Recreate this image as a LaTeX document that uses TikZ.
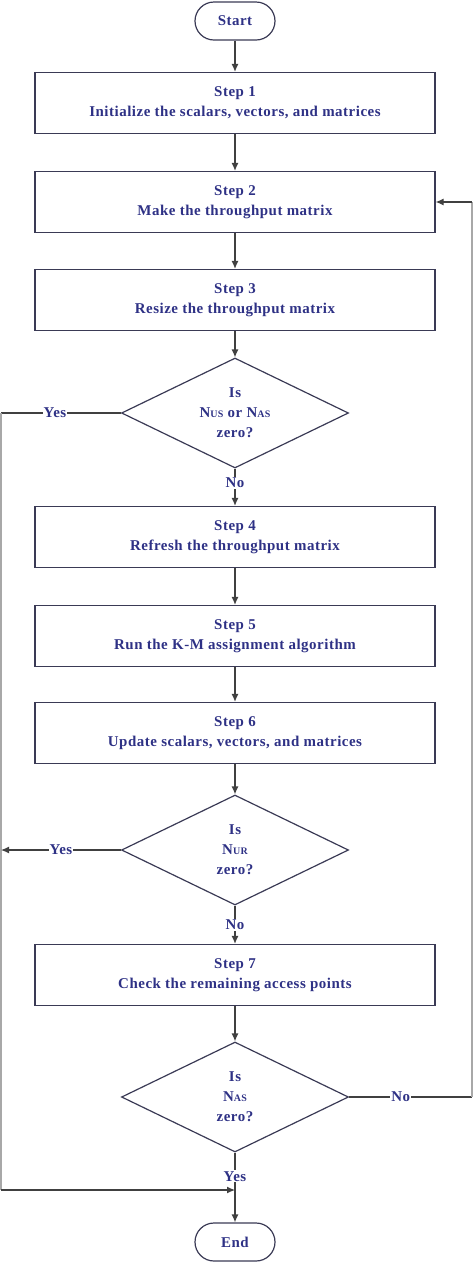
\documentclass[tikz,border=0pt]{standalone}
\usepackage{fontspec}
\setmainfont[LetterSpace=3.5]{Liberation Serif}
\usetikzlibrary{shapes.geometric,arrows.meta}

\definecolor{txtblue}{HTML}{2E3185}
\definecolor{boxline}{HTML}{3A3A55}
\definecolor{flowline}{HTML}{404040}
\definecolor{backline}{HTML}{A8A8A8}

\newcommand{\sub}[1]{{\fontsize{10}{10}\selectfont #1}}

\begin{document}
\begin{tikzpicture}[x=1bp, y=-1bp,
  every node/.style={font=\fontsize{15}{20}\selectfont\bfseries, text=txtblue, align=center},
  term/.style={draw=boxline, line width=1.2bp, rounded corners=19bp, minimum width=80bp, minimum height=38bp},
  proc/.style={draw=boxline, line width=1.2bp, minimum width=400bp, minimum height=61bp},
  decide/.style={draw=boxline, line width=1.2bp, diamond, aspect=2.06, inner sep=0pt, minimum width=227bp, minimum height=110bp},
  flow/.style={draw=flowline, line width=1.2bp, -{Latex[length=8bp,width=7bp]}},
  plain/.style={draw=flowline, line width=1.2bp},
  back/.style={draw=backline, line width=1.5bp},
  lbl/.style={fill=white, inner sep=1bp}]
  \useasboundingbox (0,0) rectangle (474,1264);

  % Terminals
  \node[term] (start) at (235,21) {Start};
  \node[term] (end) at (235,1242) {End};

  % Process steps
  \node[proc] (s1) at (235,103) {Step 1\\Initialize the scalars, vectors, and matrices};
  \node[proc] (s2) at (235,202) {Step 2\\Make the throughput matrix};
  \node[proc] (s3) at (235,300) {Step 3\\Resize the throughput matrix};
  \node[proc] (s4) at (235,537) {Step 4\\Refresh the throughput matrix};
  \node[proc] (s5) at (235,636) {Step 5\\Run the K-M assignment algorithm};
  \node[proc] (s6) at (235,733) {Step 6\\Update scalars, vectors, and matrices};
  \node[proc] (s7) at (235,975) {Step 7\\Check the remaining access points};

  % Decisions
  \node[decide] (d1) at (235,413) {Is\\N\sub{US} or N\sub{AS}\\zero?};
  \node[decide] (d2) at (235,850) {Is\\N\sub{UR}\\zero?};
  \node[decide] (d3) at (235,1097) {Is\\N\sub{AS}\\zero?};

  % Helper points on the outer loops
  \coordinate (lt) at (1,413);
  \coordinate (ll) at (1,850);
  \coordinate (lb) at (1,1190);
  \coordinate (mj) at (235,1190);
  \coordinate (rb) at (472,1097);
  \coordinate (rt) at (472,202);

  % Main flow
  \draw[flow] (start) -- (s1);
  \draw[flow] (s1) -- (s2);
  \draw[flow] (s2) -- (s3);
  \draw[flow] (s3) -- (d1);
  \draw[flow] (d1) -- node[lbl, pos=0.38] {No} (s4);
  \draw[flow] (s4) -- (s5);
  \draw[flow] (s5) -- (s6);
  \draw[flow] (s6) -- (d2);
  \draw[flow] (d2) -- node[lbl, pos=0.5] {No} (s7);
  \draw[flow] (s7) -- (d3);
  \draw[flow] (d3) -- node[lbl, pos=0.34] {Yes} (end);

  % Yes branches on the left
  \draw[plain] (d1.west) -- node[lbl, pos=0.55] {Yes} (lt);
  \draw[back] (lt) -- (lb);
  \draw[flow] (d2.west) -- node[lbl, pos=0.5] {Yes} (ll);
  \draw[flow] (lb) -- (mj);

  % No branch back to step 2
  \draw[plain] (d3.east) -- node[lbl, pos=0.42] {No} (rb);
  \draw[back] (rb) -- (rt);
  \draw[flow] (rt) -- (s2.east);
\end{tikzpicture}
\end{document}
